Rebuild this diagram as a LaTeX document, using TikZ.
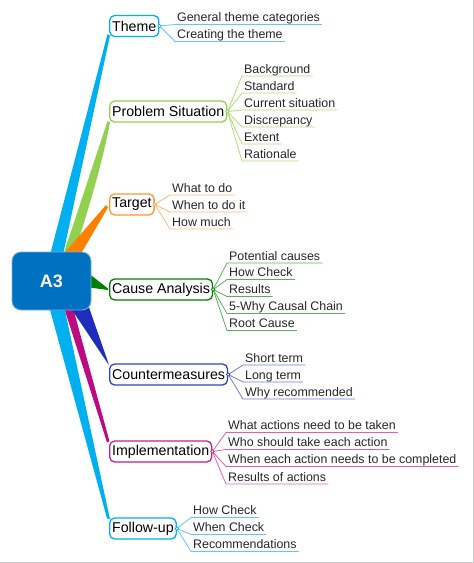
\documentclass[tikz,border=0pt]{standalone}
\usepackage{fontspec}
\setmainfont{Liberation Sans}
\usetikzlibrary{backgrounds}
\definecolor{rootblue}{RGB}{0,112,192}
\definecolor{skyblue}{RGB}{0,176,240}
\definecolor{skyline}{RGB}{95,200,245}
\definecolor{grassgreen}{RGB}{146,208,80}
\definecolor{grassline}{RGB}{175,222,125}
\definecolor{orangebr}{RGB}{255,128,0}
\definecolor{orangebox}{RGB}{255,150,50}
\definecolor{orangeline}{RGB}{255,185,120}
\definecolor{deepgreen}{RGB}{0,128,0}
\definecolor{deepline}{RGB}{90,175,90}
\definecolor{navybr}{RGB}{30,45,190}
\definecolor{navybox}{RGB}{45,65,205}
\definecolor{navyline}{RGB}{105,125,225}
\definecolor{plumbr}{RGB}{190,10,130}
\definecolor{plumbox}{RGB}{200,30,140}
\definecolor{plumline}{RGB}{225,95,175}
\begin{document}
\begin{tikzpicture}[x=1pt,y=-1pt]
    \tikzset{root/.style = {draw=rootblue!55!white, fill=rootblue, line width=0.8pt, rounded corners=9pt, minimum width=79pt, minimum height=58pt, text=white, font=\bfseries\fontsize{18}{20}\selectfont}}
    \tikzset{topic/.style = {draw=#1, fill=white, line width=1.3pt, rounded corners=5pt, anchor=west, minimum height=21pt, inner xsep=2.5pt, inner ysep=0pt, font=\fontsize{14.2}{16}\selectfont}}
    \tikzset{leaf/.style = {anchor=south west, inner xsep=2pt, inner ysep=0.5pt, text depth=2pt, text=black!85, font=\fontsize{12.4}{14}\selectfont}}
    \tikzset{twig/.style = {draw=#1, line width=0.8pt}}
    \tikzset{knob/.style = {circle, draw=#1, fill=white, inner sep=0pt, minimum size=3.5pt, line width=0.6pt}}
    \useasboundingbox (0,0) rectangle (474,563);
    \draw[gray!40] (473.5,0) -- (473.5,562.5) -- (0,562.5);
    % main topics
    \node[root] (a3) at (51.5,281) {A3};
    \node[topic=skyblue] (theme) at (109,26) {Theme};
    \node[topic=grassgreen] (problem) at (109,111.5) {Problem Situation};
    \node[topic=orangebox] (target) at (109,204.5) {Target};
    \node[topic=deepgreen] (cause) at (109,289.5) {Cause Analysis};
    \node[topic=navybox] (counter) at (109,374.5) {Countermeasures};
    \node[topic=plumbox] (impl) at (109,451.5) {Implementation};
    \node[topic=skyblue] (follow) at (109,528.5) {Follow-up};
    % branches
    \coordinate (t1) at (49.5,257);
    \coordinate (t2) at (62.5,257);
    \coordinate (t3) at (73,257);
    \coordinate (t4) at (61,257);
    \coordinate (t5) at (79,257);
    \coordinate (b1) at (49,306);
    \coordinate (b2) at (64,306);
    \coordinate (b3) at (63.5,306);
    \coordinate (b4) at (72.5,306);
    \coordinate (b5) at (69.5,306);
    \coordinate (b6) at (88.5,306);
    \begin{scope}[on background layer]
    \fill[skyblue] (t1) -- ([shift={(-1.5,-3)}]theme.south west) -- ([shift={(1,-1.5)}]theme.south west) -- (t2) -- cycle;
    \fill[grassgreen] (t2) -- ([shift={(-1.5,-1.5)}]problem.south west) -- ([shift={(1,-0.5)}]problem.south west) .. controls (103,160) and (90,205) .. (t3) -- cycle;
    \fill[orangebr] (t4) -- ([shift={(-3,0.5)}]target.west) -- ([shift={(-1,3)}]target.west) -- (t5) -- cycle;
    \fill[deepgreen] ([shift={(-2,-7)}]a3.east) -- ([shift={(-1,-1)}]cause.west) -- ([shift={(-1,0.5)}]cause.west) -- ([shift={(-2,6.5)}]a3.east) -- cycle;
    \fill[skyblue] (b1) -- ([shift={(-2,1)}]follow.north west) -- ([shift={(1,2)}]follow.north west) -- (b2) -- cycle;
    \fill[plumbr] (b3) -- ([shift={(-2,2)}]impl.north west) -- ([shift={(0.5,1)}]impl.north west) -- (b4) -- cycle;
    \fill[navybr] (b5) -- ([shift={(-2,-1)}]counter.north west) -- ([shift={(0,1.5)}]counter.north west) -- (b6) -- cycle;
    \end{scope}
    % Theme
    \node[leaf] (th1) at (175,24.5) {General theme categories};
    \node[leaf] (th2) at (175,41.5) {Creating the theme};
    \draw[twig=skyline] (theme.east) -- (th1.south west) -- (th1.south east);
    \draw[twig=skyline] (theme.east) -- (th2.south west) -- (th2.south east);
    \node[knob=skyblue] (thk) at (theme.east) {};
    % Problem Situation
    \node[leaf] (ps1) at (242,76) {Background};
    \node[leaf] (ps2) at (242,93) {Standard};
    \node[leaf] (ps3) at (242,110) {Current situation};
    \node[leaf] (ps4) at (242,127) {Discrepancy};
    \node[leaf] (ps5) at (242,144) {Extent};
    \node[leaf] (ps6) at (242,161) {Rationale};
    \draw[twig=grassline] (problem.east) -- (ps1.south west) -- (ps1.south east);
    \draw[twig=grassline] (problem.east) -- (ps2.south west) -- (ps2.south east);
    \draw[twig=grassline] (problem.east) -- (ps3.south west) -- (ps3.south east);
    \draw[twig=grassline] (problem.east) -- (ps4.south west) -- (ps4.south east);
    \draw[twig=grassline] (problem.east) -- (ps5.south west) -- (ps5.south east);
    \draw[twig=grassline] (problem.east) -- (ps6.south west) -- (ps6.south east);
    \node[knob=grassgreen] (psk) at (problem.east) {};
    % Target
    \node[leaf] (tg1) at (170,195) {What to do};
    \node[leaf] (tg2) at (170,212) {When to do it};
    \node[leaf] (tg3) at (170,229) {How much};
    \draw[twig=orangeline] (target.east) -- (tg1.south west) -- (tg1.south east);
    \draw[twig=orangeline] (target.east) -- (tg2.south west) -- (tg2.south east);
    \draw[twig=orangeline] (target.east) -- (tg3.south west) -- (tg3.south east);
    \node[knob=orangebox] (tgk) at (target.east) {};
    % Cause Analysis
    \node[leaf] (ca1) at (227,263) {Potential causes};
    \node[leaf] (ca2) at (227,279.5) {How Check};
    \node[leaf] (ca3) at (227,296.5) {Results};
    \node[leaf] (ca4) at (227,313.5) {5-Why Causal Chain};
    \node[leaf] (ca5) at (227,330.5) {Root Cause};
    \draw[twig=deepline] (cause.east) -- (ca1.south west) -- (ca1.south east);
    \draw[twig=deepline] (cause.east) -- (ca2.south west) -- (ca2.south east);
    \draw[twig=deepline] (cause.east) -- (ca3.south west) -- (ca3.south east);
    \draw[twig=deepline] (cause.east) -- (ca4.south west) -- (ca4.south east);
    \draw[twig=deepline] (cause.east) -- (ca5.south west) -- (ca5.south east);
    \node[knob=deepgreen] (cak) at (cause.east) {};
    % Countermeasures
    \node[leaf] (cm1) at (243,365) {Short term};
    \node[leaf] (cm2) at (243,382) {Long term};
    \node[leaf] (cm3) at (243,399) {Why recommended};
    \draw[twig=navyline] (counter.east) -- (cm1.south west) -- (cm1.south east);
    \draw[twig=navyline] (counter.east) -- (cm2.south west) -- (cm2.south east);
    \draw[twig=navyline] (counter.east) -- (cm3.south west) -- (cm3.south east);
    \node[knob=navybox] (cmk) at (counter.east) {};
    % Implementation
    \node[leaf] (im1) at (226,432.5) {What actions need to be taken};
    \node[leaf] (im2) at (226,449.5) {Who should take each action};
    \node[leaf] (im3) at (226,466.5) {When each action needs to be completed};
    \node[leaf] (im4) at (226,484) {Results of actions};
    \draw[twig=plumline] (impl.east) -- (im1.south west) -- (im1.south east);
    \draw[twig=plumline] (impl.east) -- (im2.south west) -- (im2.south east);
    \draw[twig=plumline] (impl.east) -- (im3.south west) -- (im3.south east);
    \draw[twig=plumline] (impl.east) -- (im4.south west) -- (im4.south east);
    \node[knob=plumbox] (imk) at (impl.east) {};
    % Follow-up
    \node[leaf] (fu1) at (191,517.5) {How Check};
    \node[leaf] (fu2) at (191,534.5) {When Check};
    \node[leaf] (fu3) at (191,551.5) {Recommendations};
    \draw[twig=skyline] (follow.east) -- (fu1.south west) -- (fu1.south east);
    \draw[twig=skyline] (follow.east) -- (fu2.south west) -- (fu2.south east);
    \draw[twig=skyline] (follow.east) -- (fu3.south west) -- (fu3.south east);
    \node[knob=skyblue] (fuk) at (follow.east) {};
\end{tikzpicture}
\end{document}
